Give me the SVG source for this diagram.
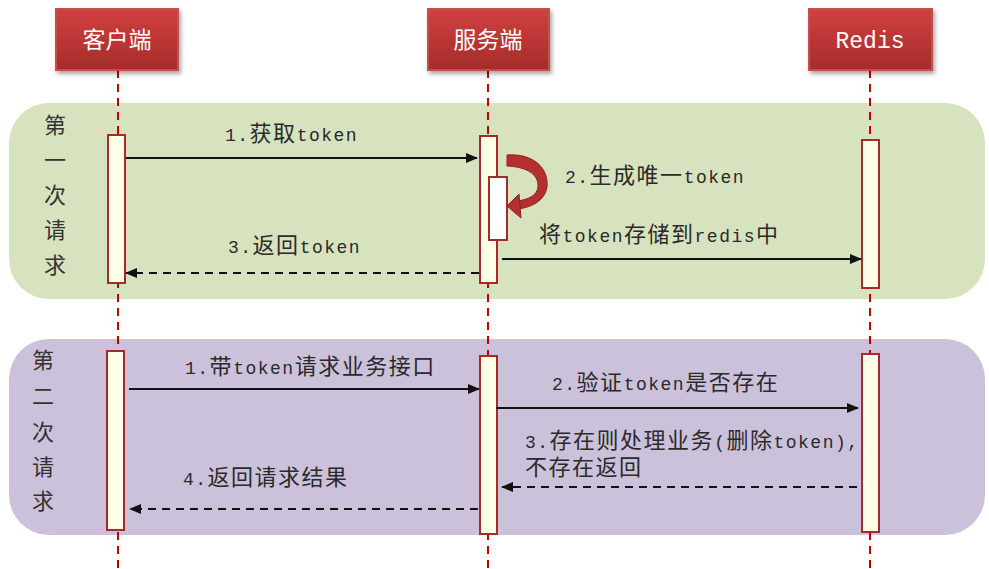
<svg xmlns="http://www.w3.org/2000/svg" width="989" height="569" viewBox="0 0 989 569">
<defs>
<linearGradient id="hdr" x1="0" y1="0" x2="0" y2="1">
<stop offset="0" stop-color="#d14140"/>
<stop offset="1" stop-color="#a52c2a"/>
</linearGradient>
<filter id="sh" x="-10%" y="-10%" width="130%" height="140%">
<feDropShadow dx="2" dy="3" stdDeviation="2" flood-color="#000" flood-opacity="0.35"/>
</filter>
<marker id="ah" viewBox="0 0 12 10" refX="11" refY="5" markerWidth="12" markerHeight="10" markerUnits="userSpaceOnUse" orient="auto">
<path d="M0,0 L12,5 L0,10 Z" fill="#111"/>
</marker>
<style>
.hdr{fill:url(#hdr);stroke:#c0504d;stroke-width:2;filter:url(#sh)}
.ht{fill:#fff;font-family:"Liberation Mono","Noto Sans CJK SC",monospace;font-size:23px;text-anchor:middle}
.life{stroke:#c00000;stroke-width:2;stroke-dasharray:8,6;fill:none}
.act{fill:#ffffe8;stroke:#a52a2a;stroke-width:2}
.msg{stroke:#111;stroke-width:2;fill:none;marker-end:url(#ah)}
.ret{stroke:#111;stroke-width:2;fill:none;stroke-dasharray:8,6;marker-end:url(#ah)}
.lb{fill:#2a2a2a;font-family:"Liberation Mono","Noto Sans CJK SC",monospace;font-size:22px;letter-spacing:1.5px}
.l{font-size:18px}
.side{fill:#333;font-family:"Noto Sans CJK SC",sans-serif;font-size:22px;text-anchor:middle}
</style>
</defs>
<rect width="989" height="569" fill="#fff"/>
<g id="panel1">
<rect x="9" y="103" width="976" height="196" rx="40" fill="#d7e3be"/>
<text class="side" x="55" y="133">第</text>
<text class="side" x="55" y="168">一</text>
<text class="side" x="55" y="203">次</text>
<text class="side" x="55" y="238">请</text>
<text class="side" x="55" y="273">求</text>
</g>
<g id="panel2">
<rect x="9" y="339" width="976" height="196" rx="40" fill="#ccc1da"/>
<text class="side" x="43" y="368">第</text>
<text class="side" x="43" y="404">二</text>
<text class="side" x="43" y="440">次</text>
<text class="side" x="43" y="475">请</text>
<text class="side" x="43" y="509">求</text>
</g>
<g id="lifelines">
<line class="life" x1="118" y1="70" x2="118" y2="569"/>
<line class="life" x1="488" y1="70" x2="488" y2="569"/>
<line class="life" x1="870" y1="70" x2="870" y2="569"/>
</g>
<g id="client">
<rect class="hdr" x="56" y="9" width="122" height="61"/>
<text class="ht" x="117" y="48">客户端</text>
</g>
<g id="server">
<rect class="hdr" x="428" y="9" width="121" height="61"/>
<text class="ht" x="488" y="48">服务端</text>
</g>
<g id="redis">
<rect class="hdr" x="809" y="9" width="123" height="61"/>
<text class="ht" x="870" y="48">Redis</text>
</g>
<g id="activations">
<rect class="act" x="108" y="135" width="17" height="148"/>
<rect class="act" x="480" y="136" width="17" height="147"/>
<rect x="489" y="177" width="18" height="63" fill="#fff" stroke="#a52a2a" stroke-width="2"/>
<rect class="act" x="862" y="140" width="17" height="148"/>
<rect class="act" x="107" y="351" width="17" height="179"/>
<rect class="act" x="480" y="356" width="17" height="178"/>
<rect class="act" x="862" y="354" width="17" height="178"/>
</g>
<g id="connectors">
<line class="msg" x1="126" y1="158" x2="477" y2="158"/>
<line class="ret" x1="479" y1="273" x2="126" y2="273"/>
<line class="msg" x1="502" y1="259" x2="861" y2="259"/>
<path d="M507,155 C533,153 549,168 547,187 C545,200 533,207 518,209 L518,201 C530,199 537,195 538,187 C539,175 528,167 507,166 Z" fill="#b3302e" stroke="#8e2220" stroke-width="1"/>
<path d="M519,194 L507,206 L521,218 Z" fill="#b3302e" stroke="#8e2220" stroke-width="1"/>
<line class="msg" x1="129" y1="389" x2="479" y2="389"/>
<line class="msg" x1="496" y1="408" x2="858" y2="408"/>
<line class="ret" x1="857" y1="487" x2="502" y2="487"/>
<line class="ret" x1="478" y1="509" x2="130" y2="509"/>
</g>
<g id="labels">
<text class="lb" x="225" y="141"><tspan class="l">1.</tspan>获取<tspan class="l">token</tspan></text>
<text class="lb" x="565" y="183"><tspan class="l">2.</tspan>生成唯一<tspan class="l">token</tspan></text>
<text class="lb" x="539" y="242">将<tspan class="l">token</tspan>存储到<tspan class="l">redis</tspan>中</text>
<text class="lb" x="228" y="253"><tspan class="l">3.</tspan>返回<tspan class="l">token</tspan></text>
<text class="lb" x="185" y="374"><tspan class="l">1.</tspan>带<tspan class="l">token</tspan>请求业务接口</text>
<text class="lb" x="552" y="390"><tspan class="l">2.</tspan>验证<tspan class="l">token</tspan>是否存在</text>
<text class="lb" x="525" y="448"><tspan class="l">3.</tspan>存在则处理业务<tspan class="l">(</tspan>删除<tspan class="l">token),</tspan></text>
<text class="lb" x="525" y="475">不存在返回</text>
<text class="lb" x="183" y="485"><tspan class="l">4.</tspan>返回请求结果</text>
</g>
</svg>
